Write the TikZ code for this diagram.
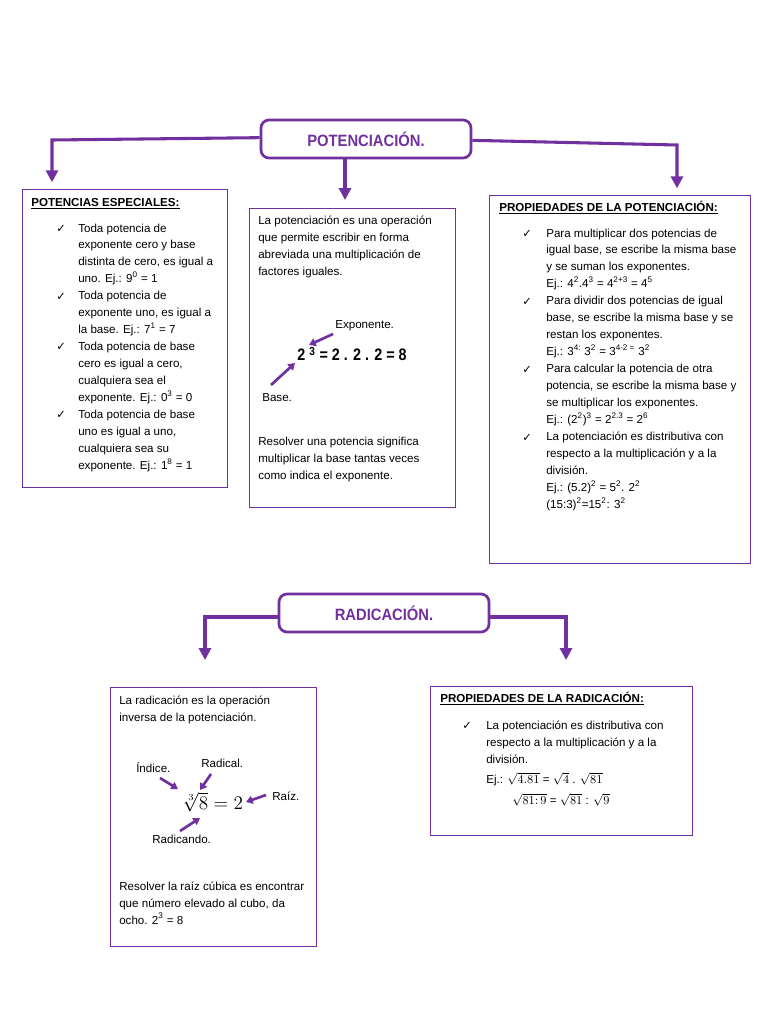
\documentclass[tikz,border=0pt]{standalone}
\usepackage{fontspec}
\setmainfont{Liberation Sans}
\newfontfamily\checkfont{DejaVu Sans}
\newfontfamily\titlefont[FakeStretch=0.9]{Liberation Sans}
\newfontfamily\eqfont[FakeStretch=0.86]{Liberation Sans}
\usetikzlibrary{arrows.meta}
\definecolor{purp}{HTML}{7030A0}
\tikzset{
  conn/.style={draw=purp, line width=2.3pt, -{Triangle[width=9pt,length=9pt]}},
  lab/.style={draw=purp, line width=2pt, -{Triangle[width=6pt,length=5pt]}},
  tbox/.style={draw=purp, line width=0.8pt, inner sep=0, anchor=north west},
  titlebox/.style={draw=purp, line width=2pt, rounded corners=6pt, inner sep=0,
     text=purp, font=\titlefont\bfseries\fontsize{12.3}{14}\selectfont,
     minimum width=210*0.75pt, minimum height=38*0.75pt},
  txt/.style={anchor=base west, inner sep=0, font=\fontsize{8.7}{10}\selectfont},
  hd/.style={txt, font=\bfseries\fontsize{8.7}{10}\selectfont},
  chk/.style={anchor=base west, inner sep=0, font=\checkfont\fontsize{8.5}{9}\selectfont},
}
\begin{document}
\begin{tikzpicture}[x=0.75pt,y=-0.75pt]
\useasboundingbox[fill=white] (0,0) rectangle (768,1024);

% ---------- POTENCIACION ----------
\node[titlebox] (pot) at (366,139) {POTENCIACIÓN.};
\node[tbox, minimum width=205*0.75pt, minimum height=298*0.75pt] (esp) at (22,189) {};
\node[tbox, minimum width=206*0.75pt, minimum height=299*0.75pt] (def) at (249,208) {};
\node[tbox, minimum width=261*0.75pt, minimum height=368*0.75pt] (prop) at (489,195) {};

\coordinate (a1) at (52,140);
\coordinate (a2) at (677,145);
\draw[conn, shorten >=5pt] ([yshift=1pt]pot.west) -- (a1) -- (a1 |- esp.north);
\draw[conn, shorten >=6pt] ([xshift=-15.75pt]pot.south) -- ([xshift=-15.75pt]pot.south |- def.north);
\draw[conn, shorten >=5pt] ([yshift=-1pt]pot.east) -- (a2) -- (a2 |- prop.north);

% left box
\node[hd] (h1) at (31,206) {\underline{POTENCIAS ESPECIALES:}};
\foreach \y [count=\i] in {232,300,350,418} \node[chk] (c1\i) at (56,\y) {✓};
\foreach \t [count=\i from 0] in {{Toda potencia de},{exponente cero y base},{distinta de cero, es igual a},{uno. Ej.: 9\textsuperscript{0} = 1},
  {Toda potencia de},{exponente uno, es igual a},{la base. Ej.: 7\textsuperscript{1} = 7},
  {Toda potencia de base},{cero es igual a cero,},{cualquiera sea el},{exponente. Ej.: 0\textsuperscript{3} = 0},
  {Toda potencia de base},{uno es igual a uno,},{cualquiera sea su},{exponente. Ej.: 1\textsuperscript{8} = 1}}
  \node[txt] (l\i) at (78,{232+16.95*\i}) {\t};

% middle box
\foreach \t [count=\i from 0] in {{La potenciación es una operación},{que permite escribir en forma},{abreviada una multiplicación de},{factores iguales.}}
  \node[txt] (m\i) at (258,{224+17*\i}) {\t};
\node[txt] (expo) at (335,328) {Exponente.};
\node[font=\eqfont\bfseries\fontsize{12.5}{14}\selectfont, inner sep=0] (eq) at (352,354) {2 \textsuperscript{3} = 2 . 2 . 2 = 8};
\node[txt] (base) at (262,401) {Base.};
\coordinate (e1) at (333,334); \coordinate (e2) at (309,345);
\coordinate (b1) at (271,385); \coordinate (b2) at (295,363);
\draw[lab] (e1) -- (e2);
\draw[lab] (b1) -- (b2);
\foreach \t [count=\i from 0] in {{Resolver una potencia significa},{multiplicar la base tantas veces},{como indica el exponente.}}
  \node[txt] (r\i) at (258,{445+17*\i}) {\t};

% right box
\node[hd] (h2) at (499,211) {\underline{PROPIEDADES DE LA POTENCIACIÓN:}};
\foreach \y [count=\i] in {237,305,373,441} \node[chk] (c2\i) at (522,\y) {✓};
\foreach \t [count=\i from 0] in {{Para multiplicar dos potencias de},{igual base, se escribe la misma base},{y se suman los exponentes.},
  {Ej.: 4\textsuperscript{2}.4\textsuperscript{3} = 4\textsuperscript{2+3} = 4\textsuperscript{5}},
  {Para dividir dos potencias de igual},{base, se escribe la misma base y se},{restan los exponentes.},
  {Ej.: 3\textsuperscript{4:} 3\textsuperscript{2} = 3\textsuperscript{4-2 =} 3\textsuperscript{2}},
  {Para calcular la potencia de otra},{potencia, se escribe la misma base y},{se multiplicar los exponentes.},
  {Ej.: (2\textsuperscript{2})\textsuperscript{3} = 2\textsuperscript{2.3} = 2\textsuperscript{6}},
  {La potenciación es distributiva con},{respecto a la multiplicación y a la},{división.},
  {Ej.: (5.2)\textsuperscript{2} = 5\textsuperscript{2}. 2\textsuperscript{2}},
  {(15:3)\textsuperscript{2}=15\textsuperscript{2}: 3\textsuperscript{2}}}
  \node[txt] (p\i) at (546,{237+16.95*\i}) {\t};

% ---------- RADICACION ----------
\node[titlebox] (rad) at (384,613) {RADICACIÓN.};
\node[tbox, minimum width=206*0.75pt, minimum height=259*0.75pt] (rdef) at (110,687) {};
\node[tbox, minimum width=262*0.75pt, minimum height=149*0.75pt] (rprop) at (430,686) {};
\coordinate (a3) at (205,617);
\coordinate (a4) at (566,617);
\draw[conn, shorten >=27pt*0.75] ([yshift=-3pt]rad.west) -- (a3) -- (a3 |- rdef.north);
\draw[conn, shorten >=26pt*0.75] ([yshift=-3pt]rad.east) -- (a4) -- (a4 |- rprop.north);

% bottom left box
\foreach \t [count=\i from 0] in {{La radicación es la operación},{inversa de la potenciación.}}
  \node[txt] (q\i) at (119,{704+17*\i}) {\t};
\node[txt] (ind) at (136,772) {Índice.};
\node[txt] (radl) at (201,767) {Radical.};
\node[txt] (raiz) at (272,800) {Raíz.};
\node[txt] (radc) at (152,843) {Radicando.};
\node[inner sep=0, font=\fontsize{14.5}{16}\selectfont] (req) at (213,802) {$\sqrt[3]{8}=2$};
\coordinate (i1) at (160,778); \coordinate (i2) at (178,789);
\coordinate (d1) at (211,774); \coordinate (d2) at (200,790);
\coordinate (z1) at (266,795); \coordinate (z2) at (246,802);
\coordinate (k1) at (180,831); \coordinate (k2) at (200,818);
\draw[lab] (i1) -- (i2);
\draw[lab] (d1) -- (d2);
\draw[lab] (z1) -- (z2);
\draw[lab] (k1) -- (k2);
\foreach \t [count=\i from 0] in {{Resolver la raíz cúbica es encontrar},{que número elevado al cubo, da},{ocho. 2\textsuperscript{3} = 8}}
  \node[txt] (s\i) at (119,{890+17*\i}) {\t};

% bottom right box
\node[hd] (h3) at (440,702) {\underline{PROPIEDADES DE LA RADICACIÓN:}};
\node[chk] (c31) at (462,729) {✓};
\foreach \t [count=\i from 0] in {{La potenciación es distributiva con},{respecto a la multiplicación y a la},{división.}}
  \node[txt] (t\i) at (486,{729+17*\i}) {\t};
\node[txt] (t3) at (486,783) {Ej.: $\sqrt{4.81}$ = $\sqrt{4}$ . $\sqrt{81}$};
\node[txt] (t4) at (512,804) {$\sqrt{81{:}\,9}$ = $\sqrt{81}$ : $\sqrt{9}$};
\end{tikzpicture}
\end{document}
